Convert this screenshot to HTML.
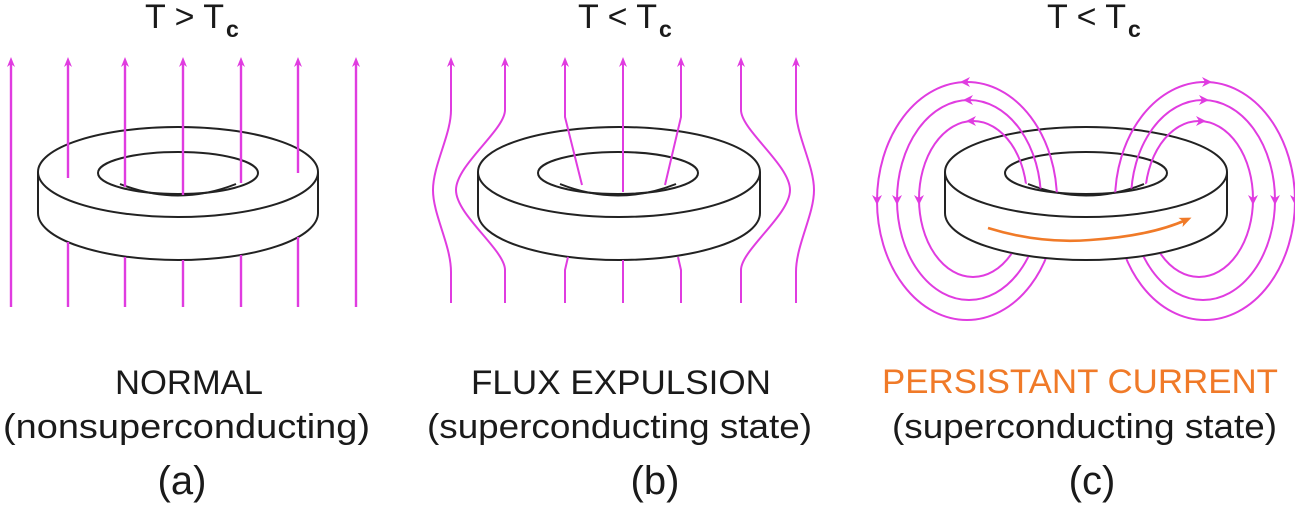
<!DOCTYPE html>
<html><head><meta charset="utf-8"><style>
html,body{margin:0;padding:0;background:#fff;}
svg{display:block;}
text{font-family:"Liberation Sans",Arial,sans-serif;fill:#1a1a1a;}
</style></head><body>
<svg width="1295" height="510" viewBox="0 0 1295 510" xmlns="http://www.w3.org/2000/svg">
<defs>
<marker id="ah" markerWidth="10" markerHeight="10" refX="5" refY="5" orient="auto" markerUnits="userSpaceOnUse">
<path d="M0,1 L10,5 L0,9 L3,5 Z" fill="#e03ce0"/></marker>
<marker id="ao" markerWidth="12" markerHeight="12" refX="6" refY="6" orient="auto" markerUnits="userSpaceOnUse">
<path d="M0,1 L12,6 L0,11 L3,6 Z" fill="#f07a28"/></marker>
<mask id="mk" maskUnits="userSpaceOnUse" x="0" y="0" width="1295" height="510">
<rect x="0" y="0" width="1295" height="510" fill="#fff"/>
<path d="M945,172 L1024,183 Q1086,207 1148,183 L1227,172 L1227,213 A141 48 0 0 1 945,213 Z" fill="#000"/>
</mask>
</defs>

<!-- titles -->
<text x="145" y="28" font-size="34">T &gt; T</text><text x="226" y="37" font-size="23" font-weight="bold">c</text>
<text x="578" y="28" font-size="34">T &lt; T</text><text x="659" y="37" font-size="23" font-weight="bold">c</text>
<text x="1047" y="28" font-size="34">T &lt; T</text><text x="1128" y="37" font-size="23" font-weight="bold">c</text>

<!-- rings -->
<g fill="none" stroke="#222" stroke-width="2">
<ellipse cx="178" cy="172" rx="140" ry="45"/><path d="M38,172 V213 A140 47 0 0 0 318,213 V172"/>
<ellipse cx="178" cy="173" rx="80" ry="21"/><path d="M120,184 Q178,207 236,184"/>
<ellipse cx="619" cy="172" rx="141" ry="45"/><path d="M478,172 V213 A141 47 0 0 0 760,213 V172"/>
<ellipse cx="618" cy="173" rx="80" ry="21"/><path d="M560,184 Q618,207 676,184"/>
<ellipse cx="1086" cy="172" rx="141" ry="45"/><path d="M945,172 V213 A141 47 0 0 0 1227,213 V172"/>
<ellipse cx="1086" cy="173" rx="81" ry="21"/><path d="M1028,184 Q1086,207 1144,184"/>
</g>

<!-- panel a lines -->
<g stroke="#e03ce0" stroke-width="2.4" fill="none">
<path d="M11,307 V62" marker-end="url(#ah)"/>
<path d="M68,178 V62" marker-end="url(#ah)"/><path d="M68,242 V307"/>
<path d="M125,187 V62" marker-end="url(#ah)"/><path d="M125,257 V307"/>
<path d="M183,195 V62" marker-end="url(#ah)"/><path d="M183,260 V307"/>
<path d="M241,183 V62" marker-end="url(#ah)"/><path d="M241,255 V307"/>
<path d="M298,173 V62" marker-end="url(#ah)"/><path d="M298,237 V307"/>
<path d="M356,307 V62" marker-end="url(#ah)"/>
</g>

<!-- panel b lines -->
<g stroke="#e03ce0" stroke-width="2" fill="none">
<path d="M451,303 V272 C451,245 433,215 433,190 C433,165 451,135 451,110 V62" marker-end="url(#ah)"/>
<path d="M505,303 V270 C505,250 456,215 456,190 C456,165 505,130 505,110 V62" marker-end="url(#ah)"/>
<path d="M582,185 L565,117 V62" marker-end="url(#ah)"/><path d="M568,257 L565,270 V303"/>
<path d="M623,192 V62" marker-end="url(#ah)"/><path d="M623,260 V303"/>
<path d="M665,185 L681,117 V62" marker-end="url(#ah)"/><path d="M678,257 L681,270 V303"/>
<path d="M741,303 V270 C741,250 790,215 790,190 C790,165 741,130 741,110 V62" marker-end="url(#ah)"/>
<path d="M796,303 V272 C796,245 814,215 814,190 C814,165 796,135 796,110 V62" marker-end="url(#ah)"/>
</g>

<!-- panel c loops -->
<g stroke="#e03ce0" stroke-width="2" fill="none" mask="url(#mk)">
<ellipse cx="967" cy="201" rx="90" ry="119"/>
<ellipse cx="969" cy="200" rx="72" ry="100"/>
<ellipse cx="973" cy="199" rx="54" ry="78"/>
<ellipse cx="1205" cy="201" rx="90" ry="119"/>
<ellipse cx="1203" cy="200" rx="72" ry="100"/>
<ellipse cx="1199" cy="199" rx="54" ry="78"/>
</g>
<g fill="#e03ce0">
<path d="M960,82 l10,-5 l-3,5 l3,5 z"/>
<path d="M963,100 l10,-5 l-3,5 l3,5 z"/>
<path d="M966,121 l10,-5 l-3,5 l3,5 z"/>
<path d="M1212,82 l-10,-5 l3,5 l-3,5 z"/>
<path d="M1209,100 l-10,-5 l3,5 l-3,5 z"/>
<path d="M1206,121 l-10,-5 l3,5 l-3,5 z"/>
<path d="M877,205 l-5,-10 l5,3 l5,-3 z"/>
<path d="M897,205 l-5,-10 l5,3 l5,-3 z"/>
<path d="M919,205 l-5,-10 l5,3 l5,-3 z"/>
<path d="M1253,205 l-5,-10 l5,3 l5,-3 z"/>
<path d="M1275,205 l-5,-10 l5,3 l5,-3 z"/>
<path d="M1295,205 l-5,-10 l5,3 l5,-3 z"/>
</g>

<!-- orange current -->
<path d="M988,228 Q1040,244 1090,240 Q1150,236 1186,220" stroke="#f07a28" stroke-width="2.6" fill="none" marker-end="url(#ao)"/>

<!-- labels -->
<text x="115" y="394" font-size="34" textLength="148" lengthAdjust="spacingAndGlyphs">NORMAL</text>
<text x="3" y="438" font-size="34" textLength="367" lengthAdjust="spacingAndGlyphs">(nonsuperconducting)</text>
<text x="182" y="494" font-size="40" text-anchor="middle">(a)</text>
<text x="471" y="394" font-size="34" textLength="300" lengthAdjust="spacingAndGlyphs">FLUX EXPULSION</text>
<text x="427" y="438" font-size="34" textLength="385" lengthAdjust="spacingAndGlyphs">(superconducting state)</text>
<text x="655" y="494" font-size="40" text-anchor="middle">(b)</text>
<text x="882" y="393" font-size="34" textLength="396" lengthAdjust="spacingAndGlyphs" style="fill:#f07a28">PERSISTANT CURRENT</text>
<text x="892" y="438" font-size="34" textLength="385" lengthAdjust="spacingAndGlyphs">(superconducting state)</text>
<text x="1092" y="494" font-size="40" text-anchor="middle">(c)</text>
</svg>
</body></html>
